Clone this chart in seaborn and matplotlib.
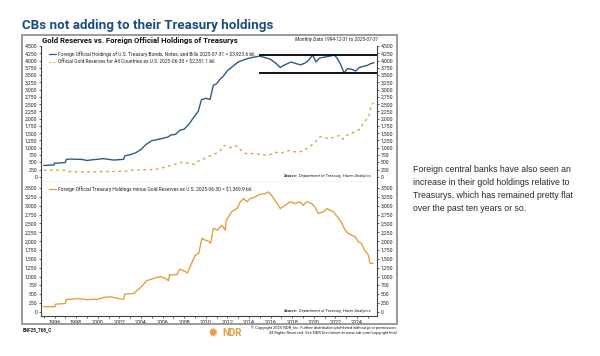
import numpy as np
import pandas as pd
import matplotlib
matplotlib.use("Agg")
import matplotlib.pyplot as plt
import matplotlib.ticker as mticker
from matplotlib.patches import Rectangle
import seaborn as sns

# %% data (bil. $)
blue_t = [1995.0, 1995.5, 1995.95, 1996.0, 1996.5, 1997.0, 1997.1, 1997.5, 1998.0, 1998.5,
          1999.0, 1999.5, 2000.0, 2000.5, 2001.0, 2001.5, 2002.0, 2002.4, 2002.5, 2003.0,
          2003.5, 2004.0, 2004.5, 2005.0, 2005.5, 2006.0, 2006.5, 2006.8, 2007.2, 2007.6,
          2008.0, 2008.4, 2008.9, 2009.3, 2009.6, 2010.0, 2010.4, 2010.7, 2011.0, 2011.3,
          2011.6, 2012.0, 2012.5, 2013.0, 2013.5, 2014.0, 2014.5, 2015.0, 2015.5, 2016.0,
          2016.5, 2016.9, 2017.3, 2017.9, 2018.3, 2018.8, 2019.2, 2019.5, 2019.9, 2020.2,
          2020.5, 2021.0, 2021.5, 2021.9, 2022.2, 2022.5, 2022.8, 2023.1, 2023.5, 2023.9,
          2024.2, 2024.6, 2025.0, 2025.3, 2025.58]
blue_v = [390, 400, 405, 470, 475, 490, 600, 610, 600, 600,
          560, 585, 600, 625, 600, 575, 590, 600, 720, 760,
          820, 940, 1120, 1240, 1280, 1320, 1370, 1440, 1460, 1600,
          1640, 1790, 2050, 2250, 2650, 2700, 2660, 3150, 3200, 3350,
          3450, 3650, 3800, 3950, 4020, 4080, 4120, 4150, 4100, 4040,
          3900, 3760, 3850, 3950, 3900, 3850, 3920, 4000, 4190, 3950,
          4080, 4120, 4150, 4190, 4060, 3850, 3570, 3720, 3700, 3640,
          3760, 3800, 3840, 3900, 3924]

gold_t = [1995.0, 1996.0, 1997.0, 1997.4, 1998.5, 1999.5, 2000.5, 2001.5, 2002.5, 2003.2,
          2004.0, 2005.3, 2005.9, 2006.5, 2007.0, 2007.6, 2008.0, 2008.5, 2008.9, 2009.4,
          2010.0, 2010.4, 2010.9, 2011.3, 2011.7, 2012.3, 2012.7, 2013.0, 2013.35, 2013.65,
          2014.4, 2015.2, 2015.8, 2016.4, 2017.0, 2017.65, 2018.4, 2019.0, 2019.65, 2020.1,
          2020.6, 2021.0, 2021.5, 2022.0, 2022.4, 2022.7, 2023.0, 2023.5, 2023.95, 2024.3,
          2024.6, 2024.9, 2025.1, 2025.2, 2025.35, 2025.5]
gold_v = [230, 230, 225, 175, 170, 170, 180, 180, 190, 230,
          240, 250, 300, 360, 420, 480, 510, 450, 420, 560,
          640, 720, 800, 880, 1080, 1000, 1070, 1020, 880, 800,
          800, 760, 740, 840, 820, 900, 850, 880, 1050, 1180,
          1380, 1340, 1310, 1380, 1420, 1290, 1420, 1500, 1580, 1640,
          1870, 1980, 2100, 2280, 2450, 2551]

diff_t = [1995.0, 1996.05, 1996.1, 1997.0, 1997.1, 1998.1, 1999.0, 2000.0, 2000.55, 2001.2,
          2001.9, 2002.4, 2002.5, 2003.3, 2003.9, 2004.55, 2005.2, 2005.8, 2006.25, 2006.55,
          2006.65, 2007.3, 2007.6, 2008.1, 2008.3, 2008.7, 2009.0, 2009.35, 2009.65, 2009.95,
          2010.3, 2010.45, 2010.7, 2011.05, 2011.5, 2011.8, 2011.9, 2012.4, 2012.9, 2013.2,
          2013.5, 2013.8, 2014.1, 2014.6, 2015.0, 2015.5, 2015.8, 2016.1, 2016.6, 2016.9,
          2017.35, 2017.8, 2018.3, 2018.7, 2019.0, 2019.35, 2019.8, 2020.1, 2020.4, 2020.9,
          2021.2, 2021.5, 2021.8, 2022.3, 2022.6, 2022.9, 2023.2, 2023.5, 2023.8, 2024.1,
          2024.4, 2024.7, 2025.05, 2025.2, 2025.5]
diff_v = [150, 150, 220, 240, 350, 380, 350, 360, 410, 430,
          380, 360, 505, 520, 670, 885, 950, 1000, 950, 885,
          1050, 1050, 1210, 1140, 1100, 1380, 1590, 1660, 2080, 2030,
          1990, 1940, 2360, 2310, 2450, 2310, 2590, 2830, 2920, 3110,
          3200, 3110, 3200, 3250, 3320, 3340, 3390, 3290, 3060, 2920,
          3010, 3110, 3060, 3110, 3010, 3110, 3060, 2970, 2780, 2830,
          2920, 2870, 2830, 2640, 2500, 2310, 2220, 2170, 2130, 1990,
          1940, 1750, 1610, 1380, 1370]

band_levels = [4190, 3560]
band_start = 2014.9
year_ticks = list(range(1996, 2026, 2))

title = "CBs not adding to their Treasury holdings"
panel_title = "Gold Reserves vs. Foreign Official Holdings of Treasurys"
blue_label = "Foreign Official Holdings of U.S. Treasury Bonds, Notes, and Bills 2025-07-31 = $3,923.6 bil."
gold_label = "Official Gold Reserves for All Countries ex U.S. 2025-06-30 = $2,551.1 bil."
diff_label = "Foreign Official Treasury Holdings minus Gold Reserves ex U.S. 2025-06-30 = $1,369.9 bil."
note = ("Foreign central banks have also seen an\nincrease in their gold holdings relative to\n"
        "Treasurys, which has remained pretty flat\nover the past ten years or so.")

# %% style
sns.set_theme(style="white")
plt.rcParams["font.family"] = ["Roboto", "DejaVu Sans"]

BLUE = "#2e5c86"
GOLD = "#d9a553"
ORANGE = "#e2a043"
NAVY = "#1d4d7a"

blue_df = pd.DataFrame({"year": blue_t, "value": blue_v})
gold_df = pd.DataFrame({"year": gold_t, "value": gold_v})
diff_df = pd.DataFrame({"year": diff_t, "value": diff_v})

W, H = 600, 356
fig = plt.figure(figsize=(6, 3.56), dpi=100)
fig.patch.set_facecolor("white")

def fx(px):
    return px / W

def fy(py):
    return 1 - py / H

x_lo, x_hi = 1994.75, 2025.85
ax1 = fig.add_axes([fx(41), fy(182), fx(377) - fx(41), fy(46) - fy(182)])
ax2 = fig.add_axes([fx(41), fy(316), fx(377) - fx(41), fy(182) - fy(316)])

sns.lineplot(data=blue_df, x="year", y="value", ax=ax1, color=BLUE, lw=1.0)
sns.lineplot(data=gold_df, x="year", y="value", ax=ax1, color=GOLD, lw=1.0,
             linestyle=(0, (2, 2.5)))
ax1.hlines(band_levels, band_start, x_hi, color="black", lw=1.3)
sns.lineplot(data=diff_df, x="year", y="value", ax=ax2, color=ORANGE, lw=1.0)

ax1.set_ylim(-180, 4500)
ax2.set_ylim(-113, 3669)

fmt = mticker.FuncFormatter(lambda v, p: f"{int(v):,}")
for ax, top in [(ax1, 4500), (ax2, 3500)]:
    ax.set_xlim(x_lo, x_hi)
    ax.set_yticks(np.arange(0, top + 1, 250))
    ax.yaxis.set_major_formatter(fmt)
    ax.set_xlabel("")
    ax.set_ylabel("")
    ax.tick_params(axis="y", which="both", left=True, right=True, labelleft=True,
                   labelright=True, direction="out", length=1.5, width=0.5,
                   labelsize=3.7, pad=1.2, colors="#222222")
    for s in ax.spines.values():
        s.set_color("#444444")
        s.set_linewidth(0.8)
    ax.spines["top"].set_visible(False)

ax1.set_xticks([])
ax2.set_xticks(year_ticks)
ax2.xaxis.set_minor_locator(mticker.MultipleLocator(1))
ax2.tick_params(axis="x", which="both", bottom=True, direction="out", length=1.5,
                width=0.5, labelsize=3.9, pad=1.5, colors="#222222")

# legends drawn as text with short line samples
ax1.plot([0.025, 0.045], [0.94, 0.94], transform=ax1.transAxes, color=BLUE, lw=0.9)
ax1.plot([0.025, 0.045], [0.88, 0.88], transform=ax1.transAxes, color=GOLD, lw=0.9,
         linestyle=(0, (1.5, 1.5)))
ax1.text(0.052, 0.94, blue_label, transform=ax1.transAxes, fontsize=3.5,
         va="center", ha="left", color="#222222")
ax1.text(0.052, 0.88, gold_label, transform=ax1.transAxes, fontsize=3.5,
         va="center", ha="left", color="#222222")
ax2.plot([0.025, 0.045], [0.945, 0.945], transform=ax2.transAxes, color=ORANGE, lw=0.9)
ax2.text(0.052, 0.945, diff_label, transform=ax2.transAxes, fontsize=3.5,
         va="center", ha="left", color="#222222")

for ax, yy in [(ax1, 0.045), (ax2, 0.035)]:
    ax.text(0.98, yy, "Department of Treasury, Haver Analytics", transform=ax.transAxes,
            fontsize=3.0, ha="right", va="center", style="italic", color="#222222")
    ax.text(0.765, yy, "Source:", transform=ax.transAxes, fontsize=3.0,
            ha="right", va="center", style="italic", weight="bold", color="#222222")

# frame and headings
fig.patches.append(Rectangle((fx(22), fy(324)), fx(397) - fx(22), fy(35) - fy(324),
                             transform=fig.transFigure, fill=False,
                             edgecolor="#9a9a9a", lw=1.4))
fig.text(fx(22), fy(25), title, fontsize=9.6, weight="bold", color=NAVY,
         ha="left", va="center")
fig.text(fx(140), fy(41), panel_title, fontsize=5.6, weight="bold", color="#111111",
         ha="center", va="center")
fig.text(fx(378), fy(40), "Monthly Data 1994-12-31 to 2025-07-31", fontsize=3.5,
         style="italic", color="#222222", ha="right", va="center")

# footer
fig.text(fx(23), fy(330), "BNF25_768_C", fontsize=3.3, weight="bold", color="#222222",
         ha="left", va="center")
fig.text(fx(213), fy(333), "\u2739", fontsize=9, color=ORANGE, ha="center", va="center",
         family="DejaVu Sans")
fig.text(fx(222), fy(333), "NDR", fontsize=7, weight="bold", color=ORANGE,
         ha="left", va="center")
fig.text(fx(397), fy(328), "\u00a9 Copyright 2025 NDR, Inc. Further distribution prohibited without prior permission.",
         fontsize=2.9, color="#222222", ha="right", va="center")
fig.text(fx(397), fy(333), "All Rights Reserved. See NDR Disclaimer at www.ndr.com/copyright.html",
         fontsize=2.9, color="#222222", ha="right", va="center")

# side note
fig.text(fx(413), fy(165), note, fontsize=6.3, color="#2a2a2a", ha="left", va="top",
         linespacing=1.55, family=["Liberation Sans", "DejaVu Sans"])

fig.savefig("out.png", dpi=100, facecolor="white")
